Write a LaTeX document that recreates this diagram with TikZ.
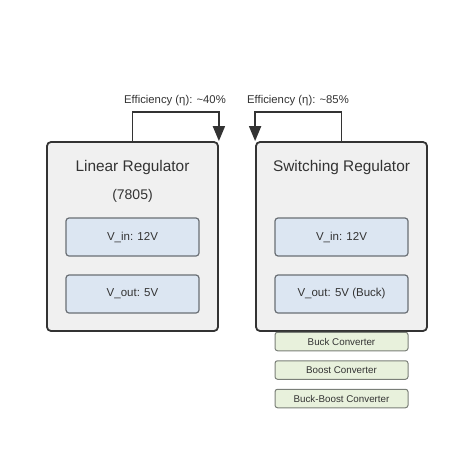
\documentclass[tikz,border=0pt]{standalone}
\usepackage{fontspec}
\setmainfont{Liberation Sans}
\usetikzlibrary{arrows.meta}
\definecolor{txt}{HTML}{333333}
\definecolor{outerfill}{HTML}{F0F0F0}
\definecolor{innerfill}{HTML}{DCE6F2}
\definecolor{innerdraw}{HTML}{6A6F75}
\definecolor{greenfill}{HTML}{E8F1DC}
\definecolor{greendraw}{HTML}{7A7F78}
\begin{document}
\begin{tikzpicture}[x=1pt,y=-1pt,
  outerbox/.style={draw=txt,fill=outerfill,line width=1.8pt,rounded corners=4pt,minimum width=171pt,minimum height=189pt,inner sep=0pt},
  innerbox/.style={draw=innerdraw,fill=innerfill,line width=1.2pt,rounded corners=3pt,minimum width=133pt,minimum height=38pt,inner sep=0pt,text=txt,font=\fontsize{11.5}{13}\selectfont},
  greenbox/.style={draw=greendraw,fill=greenfill,line width=1pt,rounded corners=2.5pt,minimum width=133pt,minimum height=18.5pt,inner sep=0pt,text=txt,font=\fontsize{9.8}{11}\selectfont},
  titletxt/.style={text=txt,font=\fontsize{15.4}{17}\selectfont,inner sep=0pt},
  efftxt/.style={text=txt,font=\fontsize{11.3}{13}\selectfont,inner sep=0pt},
  loop/.style={draw=txt,line width=1.8pt,-{Triangle[width=12pt,length=15pt]}}
]
\useasboundingbox (0,0) rectangle (474,474);
% outer boxes
\node[outerbox] (lin) at (132.5,236.5) {};
\node[outerbox] (sw) at (341.5,236.5) {};
% titles
\node[titletxt] (lintitle) at (132.5,167.5) {Linear Regulator};
\node[titletxt,font=\fontsize{14}{16}\selectfont] (linsub) at (132.5,195.5) {(7805)};
\node[titletxt] (swtitle) at (341.5,167.5) {Switching Regulator};
% inner boxes
\node[innerbox] (linin) at (132.5,237) {V\_in: 12V};
\node[innerbox] (linout) at (132.5,294) {V\_out: 5V};
\node[innerbox] (swin) at (341.5,237) {V\_in: 12V};
\node[innerbox] (swout) at (341.5,294) {V\_out: 5V (Buck)};
% green boxes
\node[greenbox] (buck) at (341.5,341.5) {Buck Converter};
\node[greenbox] (boost) at (341.5,370) {Boost Converter};
\node[greenbox] (bb) at (341.5,398.5) {Buck-Boost Converter};
% loops
\draw[loop] (lin.north) -- ++(0,-29) -| (lin.north east);
\draw[loop] (sw.north) -- ++(0,-29) -| (sw.north west);
\node[efftxt] (eff1) at (175,101) {Efficiency (η): \textasciitilde40\%};
\node[efftxt] (eff2) at (298,101) {Efficiency (η): \textasciitilde85\%};
\end{tikzpicture}
\end{document}
